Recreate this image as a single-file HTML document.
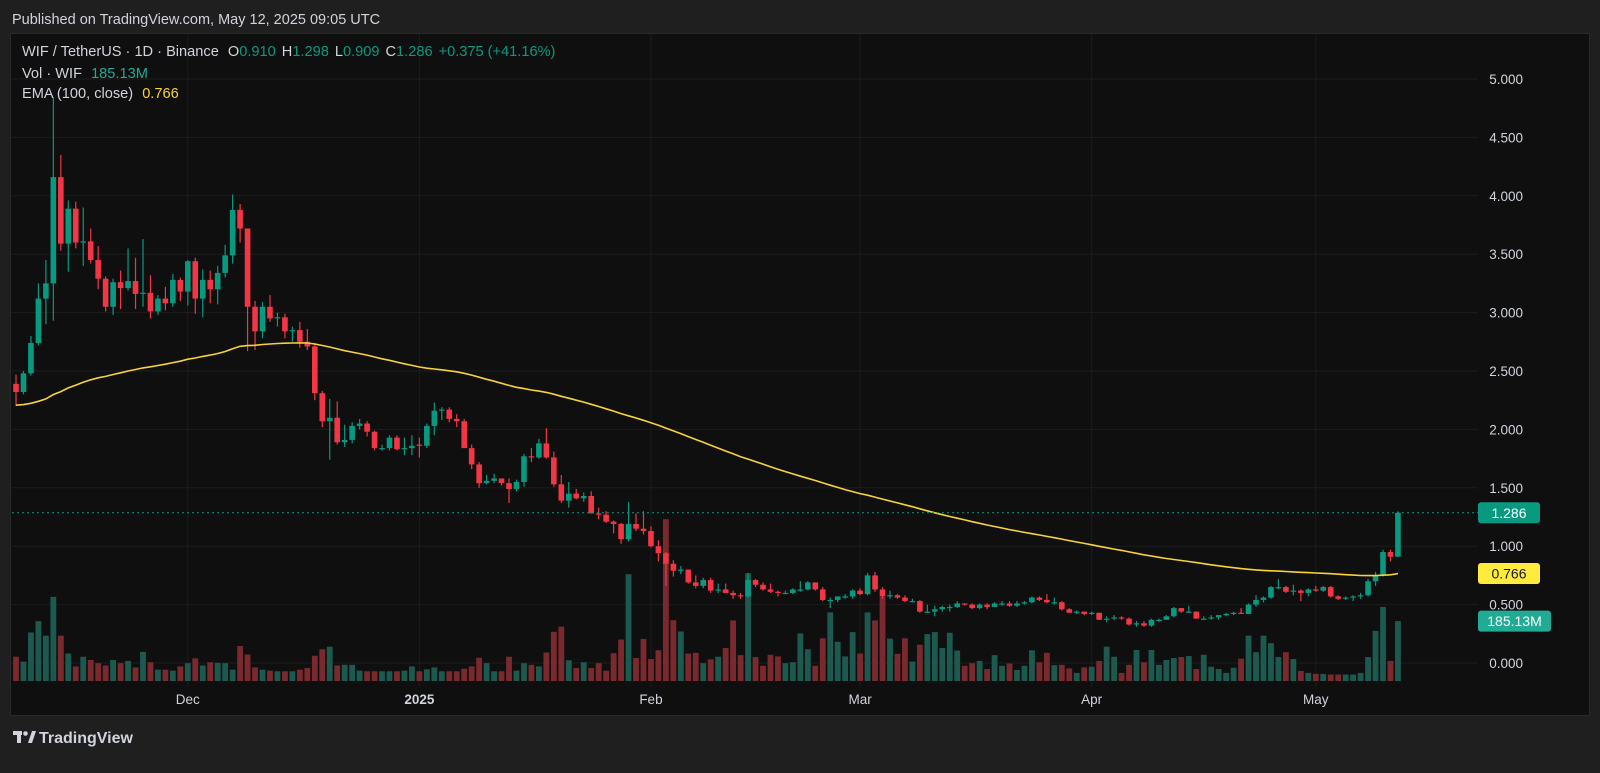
<!DOCTYPE html>
<html><head><meta charset="utf-8"><style>
html,body{margin:0;padding:0;background:#1f1f1f;}
svg{display:block;font-family:"Liberation Sans","DejaVu Sans",sans-serif;}
</style></head><body>
<svg id="chart" width="1600" height="773" viewBox="0 0 1600 773" xmlns="http://www.w3.org/2000/svg">
<rect x="0" y="0" width="1600" height="773" fill="#1f1f1f"/>
<text x="12" y="24" fill="#d1d4dc" font-size="14.5">Published on TradingView.com, May 12, 2025 09:05 UTC</text>
<rect x="10.5" y="33.5" width="1579" height="682" fill="#0f0f0f" stroke="#2a2a2a"/>
<g id="grid"></g>
<g id="vols"></g>
<g id="candles"></g>
<path id="ema" fill="none" stroke="#f7d336" stroke-width="1.6"/>
<line id="lastline" x1="12" x2="1478" stroke="#089981" stroke-width="1" stroke-dasharray="2,3"/>
<g id="yaxis"></g>
<g id="xaxis"></g>
<g font-size="14.6">
<text x="22" y="56" fill="#d1d4dc">WIF / TetherUS · 1D · Binance <tspan dx="5">O</tspan><tspan fill="#089981">0.910</tspan><tspan dx="6">H</tspan><tspan fill="#089981">1.298</tspan><tspan dx="6">L</tspan><tspan fill="#089981">0.909</tspan><tspan dx="6">C</tspan><tspan fill="#089981">1.286</tspan><tspan dx="6" fill="#089981">+0.375 (+41.16%)</tspan></text>
<text x="22" y="78" fill="#d1d4dc">Vol · WIF <tspan dx="5" fill="#22ab94">185.13M</tspan></text>
<text x="22" y="98" fill="#d1d4dc">EMA (100, close) <tspan dx="5" fill="#f7d336">0.766</tspan></text>
</g>
<g>
<rect x="13" y="731" width="9" height="4" fill="#d1d4dc"/>
<rect x="17" y="731" width="4" height="12" fill="#d1d4dc"/>
<circle cx="25.5" cy="733.5" r="2.3" fill="#d1d4dc"/>
<polygon points="28,743 32,731 36,731 32,743" fill="#d1d4dc"/>
<text x="39" y="743" fill="#d1d4dc" font-size="16" font-weight="bold">TradingView</text>
</g>
</svg>
<script>
const opens=[2.39,2.32,2.48,2.74,3.12,3.25,4.16,3.59,3.89,3.60,3.61,3.45,3.29,3.05,3.26,3.21,3.27,3.16,3.17,3.01,3.12,3.08,3.28,3.18,3.44,3.12,3.28,3.20,3.34,3.49,3.88,3.72,3.05,2.84,3.05,2.95,2.96,2.84,2.85,2.75,2.71,2.31,2.07,2.10,1.89,1.91,2.03,2.05,1.98,1.84,1.84,1.93,1.83,1.84,1.87,1.86,2.03,2.16,2.17,2.09,2.07,1.84,1.70,1.54,1.56,1.58,1.54,1.49,1.55,1.77,1.76,1.88,1.76,1.53,1.39,1.45,1.41,1.43,1.28,1.27,1.21,1.19,1.06,1.19,1.15,1.13,1.00,0.94,0.85,0.79,0.80,0.69,0.66,0.71,0.62,0.63,0.60,0.58,0.57,0.71,0.67,0.63,0.61,0.60,0.60,0.63,0.63,0.69,0.63,0.54,0.54,0.57,0.57,0.62,0.59,0.75,0.63,0.57,0.58,0.56,0.53,0.53,0.44,0.44,0.46,0.48,0.48,0.51,0.50,0.47,0.50,0.48,0.51,0.51,0.49,0.51,0.52,0.56,0.54,0.52,0.52,0.46,0.43,0.44,0.42,0.43,0.37,0.38,0.39,0.38,0.33,0.34,0.32,0.37,0.37,0.40,0.47,0.44,0.44,0.38,0.38,0.39,0.41,0.42,0.43,0.42,0.50,0.54,0.56,0.65,0.65,0.61,0.62,0.60,0.63,0.62,0.65,0.57,0.55,0.56,0.57,0.58,0.70,0.75,0.95,0.91];
const highs=[2.47,2.50,2.80,3.25,3.45,4.84,4.35,3.96,3.95,3.90,3.72,3.57,3.31,3.29,3.36,3.55,3.47,3.63,3.32,3.15,3.22,3.33,3.30,3.45,3.47,3.37,3.36,3.40,3.58,4.01,3.93,3.72,3.10,3.09,3.15,3.00,2.99,2.88,2.92,2.86,2.74,2.33,2.26,2.24,2.04,2.06,2.09,2.07,1.99,1.87,1.95,1.95,1.93,1.95,1.93,2.05,2.23,2.19,2.19,2.13,2.09,1.87,1.72,1.61,1.62,1.58,1.58,1.57,1.79,1.84,1.92,2.01,1.81,1.61,1.55,1.49,1.46,1.47,1.33,1.30,1.22,1.20,1.38,1.28,1.30,1.17,1.05,0.95,0.88,0.83,0.80,0.75,0.73,0.73,0.68,0.68,0.62,0.60,0.77,0.72,0.69,0.68,0.62,0.62,0.64,0.70,0.70,0.69,0.65,0.56,0.57,0.59,0.63,0.64,0.77,0.78,0.65,0.62,0.59,0.58,0.55,0.54,0.50,0.49,0.49,0.50,0.53,0.51,0.51,0.51,0.51,0.52,0.53,0.53,0.53,0.53,0.57,0.57,0.59,0.56,0.53,0.47,0.45,0.44,0.44,0.43,0.40,0.41,0.40,0.39,0.36,0.36,0.38,0.38,0.41,0.48,0.47,0.49,0.44,0.40,0.41,0.41,0.43,0.44,0.47,0.51,0.58,0.57,0.66,0.72,0.66,0.67,0.63,0.64,0.66,0.66,0.66,0.58,0.57,0.58,0.60,0.72,0.78,0.97,0.97,1.298];
const lows=[2.20,2.30,2.46,2.72,2.90,2.93,3.53,3.35,3.55,3.40,3.42,3.20,3.01,2.98,3.03,3.19,3.03,3.05,2.95,2.98,3.02,3.05,3.10,3.06,2.99,2.96,3.08,3.07,3.30,3.42,3.60,2.67,2.68,2.78,2.92,2.88,2.78,2.75,2.70,2.68,2.25,2.02,1.74,1.87,1.85,1.88,2.00,1.94,1.82,1.82,1.82,1.82,1.78,1.78,1.76,1.84,1.95,2.08,2.06,2.02,1.84,1.66,1.50,1.53,1.54,1.52,1.37,1.47,1.51,1.72,1.75,1.75,1.51,1.37,1.33,1.40,1.38,1.28,1.23,1.20,1.11,1.02,1.04,1.13,1.10,0.99,0.87,0.66,0.74,0.76,0.68,0.64,0.64,0.60,0.60,0.60,0.55,0.55,0.56,0.65,0.62,0.60,0.57,0.59,0.59,0.61,0.62,0.62,0.53,0.47,0.52,0.55,0.55,0.58,0.58,0.61,0.55,0.55,0.55,0.52,0.52,0.43,0.43,0.40,0.44,0.44,0.47,0.49,0.46,0.46,0.46,0.48,0.49,0.48,0.48,0.50,0.51,0.53,0.51,0.50,0.45,0.43,0.42,0.41,0.41,0.37,0.35,0.37,0.37,0.32,0.31,0.31,0.31,0.35,0.37,0.39,0.43,0.43,0.38,0.37,0.37,0.37,0.40,0.41,0.42,0.42,0.48,0.52,0.55,0.63,0.60,0.58,0.53,0.57,0.61,0.61,0.56,0.54,0.54,0.53,0.55,0.57,0.66,0.74,0.87,0.909];
const closes=[2.32,2.48,2.74,3.12,3.25,4.16,3.59,3.89,3.60,3.61,3.45,3.29,3.05,3.26,3.21,3.27,3.16,3.17,3.01,3.12,3.08,3.28,3.18,3.44,3.12,3.28,3.20,3.34,3.49,3.88,3.72,3.05,2.84,3.05,2.95,2.96,2.84,2.85,2.75,2.71,2.31,2.07,2.10,1.89,1.91,2.03,2.05,1.98,1.84,1.84,1.93,1.83,1.84,1.86,1.86,2.03,2.16,2.17,2.09,2.07,1.84,1.70,1.54,1.56,1.58,1.54,1.49,1.55,1.77,1.76,1.88,1.76,1.53,1.39,1.45,1.41,1.43,1.28,1.27,1.21,1.19,1.06,1.19,1.15,1.13,1.00,0.94,0.85,0.79,0.80,0.69,0.66,0.71,0.62,0.63,0.60,0.58,0.57,0.71,0.67,0.63,0.61,0.60,0.60,0.63,0.63,0.69,0.63,0.54,0.54,0.57,0.57,0.62,0.59,0.75,0.63,0.57,0.58,0.56,0.53,0.53,0.44,0.44,0.46,0.48,0.48,0.51,0.50,0.47,0.50,0.48,0.51,0.51,0.49,0.51,0.52,0.56,0.54,0.52,0.52,0.46,0.43,0.44,0.42,0.43,0.37,0.38,0.39,0.38,0.33,0.34,0.32,0.37,0.37,0.40,0.47,0.44,0.44,0.38,0.38,0.39,0.41,0.42,0.43,0.42,0.50,0.54,0.56,0.65,0.65,0.61,0.62,0.60,0.63,0.62,0.65,0.57,0.55,0.56,0.57,0.58,0.70,0.75,0.95,0.91,1.286];
const volumes=[75,60,150,185,140,260,140,85,45,75,65,55,48,65,55,62,42,90,58,35,35,32,45,55,70,48,58,56,55,35,108,82,42,35,32,30,30,30,35,40,78,98,106,48,50,50,32,30,30,30,30,30,32,45,30,36,42,30,30,30,38,45,72,55,30,30,75,32,55,50,45,88,152,168,64,40,58,40,55,32,86,128,330,71,130,68,95,500,188,153,85,87,55,67,75,102,187,80,333,74,47,81,76,55,58,147,98,47,132,212,121,76,151,85,212,187,260,131,84,132,60,112,145,151,102,149,94,47,55,62,37,80,47,54,34,47,95,58,87,49,50,39,25,42,44,62,106,75,25,50,96,58,96,50,65,71,74,77,37,81,44,37,25,41,69,140,89,140,117,74,89,68,31,25,22,22,20,20,20,20,25,74,155,229,62,185.13];
const priceTicks=[0,0.5,1,1.5,2,2.5,3,3.5,4,4.5,5];
const priceTickLabels=["0.000","0.500","1.000","1.500","2.000","2.500","3.000","3.500","4.000","4.500","5.000"];
const timeTickIndex=[23,54,85,113,144,174];
const timeTickLabels=["Dec","2025","Feb","Mar","Apr","May"];
const emaSeed=[2.205];

const NS="http://www.w3.org/2000/svg";
const X0=16, DX=7.47, Y0=663, PY=116.8, VBASE=681, VPX=3.09;
function xOf(i){return X0+i*DX;}
function yOf(p){return Y0-p*PY;}
function vh(v){return v/VPX;}
function mk(tag,attrs,parent){const e=document.createElementNS(NS,tag);for(const k in attrs)e.setAttribute(k,attrs[k]);parent.appendChild(e);return e;}

const grid=document.getElementById('grid');
priceTicks.forEach((p,i)=>{
  const l=mk('line',{x1:11,x2:1478,y1:yOf(p),y2:yOf(p),stroke:'#1d1d1d','stroke-width':1},grid);
  
  
});
timeTickIndex.forEach((t,i)=>{
  const l=mk('line',{x1:xOf(t),x2:xOf(t),y1:34,y2:687,stroke:'#1d1d1d','stroke-width':1},grid);
  
  
});

const vg=document.getElementById('vols');
volumes.forEach((v,i)=>{
  const up=closes[i]>=opens[i];
  const h=vh(v);
  const r=mk('rect',{x:xOf(i)-2.9,y:VBASE-h,width:5.8,height:h,fill:up?'#1c5a50':'#7a2a2e'},vg);
  
  
});

const cg=document.getElementById('candles');
closes.forEach((c,i)=>{
  const o=opens[i], up=c>=o, col=up?'#089981':'#f23645';
  const g=mk('g',{},cg);
  
  
  mk('line',{x1:xOf(i),x2:xOf(i),y1:yOf(highs[i]),y2:yOf(lows[i]),stroke:col,'stroke-width':1.2},g);
  const top=yOf(Math.max(o,c)), bot=yOf(Math.min(o,c));
  mk('rect',{x:xOf(i)-2.8,y:top,width:5.6,height:Math.max(1.2,bot-top),fill:col},g);
});

let e=emaSeed[0]; const a=2/101; let d='';
closes.forEach((c,i)=>{e=e+a*(c-e); d+=(i?'L':'M')+xOf(i).toFixed(1)+','+yOf(e).toFixed(1);});
document.getElementById('ema').setAttribute('d',d);

const last=closes[closes.length-1];
const ll=document.getElementById('lastline');
ll.setAttribute('y1',yOf(last)); ll.setAttribute('y2',yOf(last));

const ya=document.getElementById('yaxis');
priceTicks.forEach((p,i)=>{
  const t=mk('text',{x:1523,y:yOf(p)+5,fill:'#d1d4dc','font-size':13.5,'text-anchor':'end'},ya);
  t.textContent=priceTickLabels[i];
  
  
});
function badge(y,w,bg,fg,txt,name){
  const g=mk('g',{},ya);
  
  
  mk('rect',{x:1478,y:y-10.5,width:w,height:21,rx:3,fill:bg},g);
  const t=mk('text',{x:1478+w/2,y:y+5,fill:fg,'font-size':14,'text-anchor':'middle'},g);
  t.textContent=txt;
}
badge(yOf(last),62,'#089981','#ffffff',last.toFixed(3),'last-price-badge');
badge(yOf(0.766),62,'#ffeb3b','#131722','0.766','ema-value-badge');
badge(VBASE-vh(volumes[volumes.length-1]),73,'#22ab94','#ffffff','185.13M','volume-value-badge');

const xa=document.getElementById('xaxis');
timeTickIndex.forEach((t,i)=>{
  const tx=mk('text',{x:xOf(t),y:704,fill:'#d1d4dc','font-size':13.5,'text-anchor':'middle','font-weight':timeTickLabels[i]==='2025'?'bold':'normal'},xa);
  tx.textContent=timeTickLabels[i];
  
  
});
</script>
</body></html>
